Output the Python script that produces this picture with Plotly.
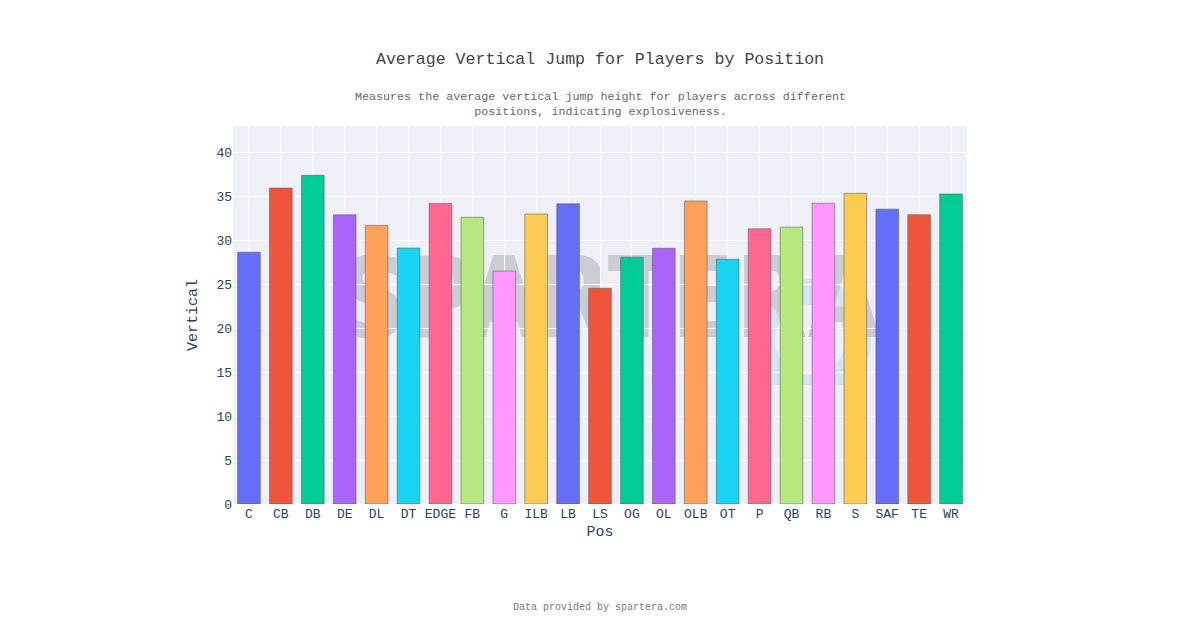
import base64
import plotly.graph_objects as go

positions = ["C", "CB", "DB", "DE", "DL", "DT", "EDGE", "FB", "G", "ILB", "LB", "LS",
             "OG", "OL", "OLB", "OT", "P", "QB", "RB", "S", "SAF", "TE", "WR"]
vertical = [28.65, 35.95, 37.4, 32.9, 31.7, 29.12, 34.2, 32.62, 26.5, 33.0, 34.15, 24.55,
            28.08, 29.1, 34.48, 27.85, 31.32, 31.5, 34.22, 35.35, 33.55, 32.92, 35.27]

palette = ["#636efa", "#EF553B", "#00cc96", "#ab63fa", "#FFA15A",
           "#19d3f3", "#FF6692", "#B6E880", "#FF97FF", "#FECB52"]
colors = [palette[i % len(palette)] for i in range(len(positions))]

mono = "Courier New, Liberation Mono, monospace"

svg = """<svg xmlns='http://www.w3.org/2000/svg' width='540' height='140' viewBox='0 0 540 140'>
<circle cx='470' cy='95' r='48' fill='none' stroke='#d3e5f2' stroke-width='26'/>
<text x='0' y='92' font-family='DejaVu Sans, Arial, sans-serif' font-weight='bold' font-size='112'
 fill='#cbccd4' textLength='540' lengthAdjust='spacingAndGlyphs'>SPARTERA</text>
</svg>"""
src = "data:image/svg+xml;base64," + base64.b64encode(svg.encode()).decode()

fig = go.Figure(go.Bar(
    x=positions, y=vertical,
    marker=dict(color=colors, line=dict(color="rgba(90,90,90,0.55)", width=1)),
))

fig.update_layout(
    width=1200, height=630,
    margin=dict(l=233, r=233, t=126, b=126),
    paper_bgcolor="white",
    plot_bgcolor="#EFEFF8",
    bargap=0.29,
    showlegend=False,
    font=dict(family=mono, color="#2a3f5f"),
    title=dict(text="Average Vertical Jump for Players by Position",
               x=0.5, xanchor="center", y=0.908, yanchor="middle",
               font=dict(family=mono, size=16.6, color="#444444")),
    annotations=[
        dict(text="Measures the average vertical jump height for players across different<br>positions, indicating explosiveness.",
             x=0.5, y=1.0 + (126 - 104) / 378, xref="paper", yref="paper",
             xanchor="center", yanchor="middle", showarrow=False, align="center",
             font=dict(family=mono, size=11.7, color="#666666")),
        dict(text="Data provided by spartera.com",
             x=0.5, y=-(607 - 504) / 378, xref="paper", yref="paper",
             xanchor="center", yanchor="middle", showarrow=False,
             font=dict(family=mono, size=10, color="#777777")),
    ],
    images=[dict(source=src, xref="paper", yref="paper",
                 x=(340 - 233) / 734, y=(504 - 245) / 378,
                 sizex=540 / 734, sizey=140 / 378,
                 xanchor="left", yanchor="top", sizing="stretch",
                 layer="below", opacity=1)],
    xaxis=dict(title=dict(text="Pos", font=dict(size=15, family=mono), standoff=4),
               tickfont=dict(size=13, family=mono),
               showgrid=True, gridcolor="white", gridwidth=1),
    yaxis=dict(title=dict(text="Vertical", font=dict(size=15, family=mono)),
               tickfont=dict(size=13, family=mono),
               range=[0, max(vertical) * 1.15], dtick=5,
               showgrid=True, gridcolor="white", gridwidth=1, zeroline=False),
)

fig.write_html("out.html")
